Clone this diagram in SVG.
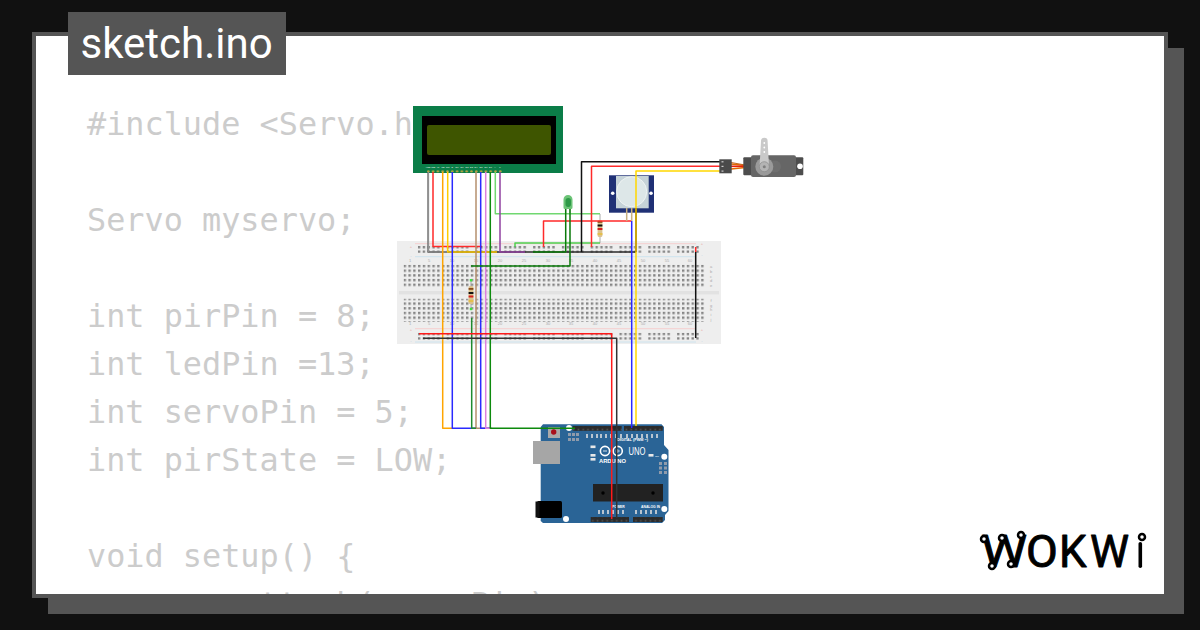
<svg xmlns="http://www.w3.org/2000/svg" width="1200" height="630" viewBox="0 0 1200 630">
<style>
.code{font-family:"DejaVu Sans Mono","Liberation Mono",monospace;font-size:31.85px;fill:#ccc}
.w{fill:none;stroke-width:1.5;stroke-linejoin:round}
.tiny{font-family:"Liberation Sans",Arial,sans-serif;font-size:3px;fill:#fff}
.bb{font-family:"Liberation Sans",Arial,sans-serif;font-size:4px;fill:#aaa;text-anchor:middle}
.lg{font-family:Roboto,"DejaVu Sans",sans-serif;font-size:44px;fill:#000;stroke:#000;stroke-width:.9px;stroke-linejoin:round}
</style>
<defs>
<pattern id="holes" patternUnits="userSpaceOnUse" x="403.6" y="264.8" width="4.8" height="4.7"><rect x="0" y="0" width="2.4" height="2.4" fill="#858585"/></pattern>
<pattern id="rail" patternUnits="userSpaceOnUse" x="417.9" y="246" width="28.8" height="4.5"><g fill="#858585"><rect x="0" width="2.4" height="2.4"/><rect x="4.8" width="2.4" height="2.4"/><rect x="9.6" width="2.4" height="2.4"/><rect x="14.4" width="2.4" height="2.4"/><rect x="19.2" width="2.4" height="2.4"/></g></pattern>
<pattern id="rail2" patternUnits="userSpaceOnUse" x="417.9" y="332.8" width="28.8" height="4.5"><g fill="#858585"><rect x="0" width="2.4" height="2.4"/><rect x="4.8" width="2.4" height="2.4"/><rect x="9.6" width="2.4" height="2.4"/><rect x="14.4" width="2.4" height="2.4"/><rect x="19.2" width="2.4" height="2.4"/></g></pattern>
<pattern id="hdr" patternUnits="userSpaceOnUse" x="0" y="0" width="4.8" height="4.8"><rect width="4.8" height="4.8" fill="#2b2b2b"/><rect x="1.6" y="1.6" width="1.6" height="1.6" fill="#555"/></pattern>
<pattern id="lcdpins" patternUnits="userSpaceOnUse" x="426.9" y="0" width="4.8" height="10"><circle cx="1.4" cy="1.5" r="1.3" fill="#b9a642"/></pattern>
</defs>
<rect width="1200" height="630" fill="#111"/>
<rect x="48" y="48" width="1136" height="566" fill="#555"/>
<rect x="32" y="32" width="1136" height="566" fill="#555"/>
<rect x="36" y="36" width="1128" height="558" fill="#fff"/>
<g class="code">
<text x="87" y="135">#include &lt;Servo.h&gt;</text>
<text x="87" y="231">Servo myservo;</text>
<text x="87" y="327">int pirPin = 8;</text>
<text x="87" y="375">int ledPin =13;</text>
<text x="87" y="423">int servoPin = 5;</text>
<text x="87" y="471">int pirState = LOW;</text>
<text x="87" y="567">void setup() {</text>
<text x="87" y="615">myservo.attach(servoPin);</text>
</g>
<rect x="36" y="594" width="1148" height="4" fill="#555"/>
<rect x="48" y="598" width="1136" height="16" fill="#555"/>
<rect x="32" y="598" width="16" height="32" fill="#111"/>
<rect x="48" y="614" width="1152" height="16" fill="#111"/>
<g id="title"><rect x="68" y="12" width="218" height="63" fill="#555"/>
<text x="80.500" y="58" font-family="Roboto,sans-serif" font-size="42" fill="#fff">sketch.ino</text></g>

<g id="breadboard">
<rect x="397" y="241" width="324" height="103" fill="#eee"/>
<rect x="399" y="291" width="320" height="3.4" fill="#e2e2e2"/>
<g stroke-width="0.8" fill="none"><path d="M415 243.700H696M415 328.700H696" stroke="#f6c6c6"/><path d="M415 256.700H696M415 342H696" stroke="#c4e0ee"/></g>
<rect x="403.6" y="264.8" width="302" height="23" fill="url(#holes)"/>
<rect x="403.6" y="298.8" width="302" height="23" fill="url(#holes)"/>
<rect x="417.9" y="246" width="281" height="7" fill="url(#rail)"/>
<rect x="417.9" y="332.8" width="281" height="7" fill="url(#rail2)"/>
<g class="bb">
<text x="411" y="248" style="fill:#e9a0a0">+</text><text x="411" y="257" style="fill:#a9cde0">-</text>
<text x="702" y="245" style="fill:#e9a0a0">+</text><text x="702" y="256" style="fill:#a9cde0">-</text>
<text x="411" y="331" style="fill:#e9a0a0">+</text><text x="411" y="342" style="fill:#a9cde0">-</text>
<text x="702" y="331" style="fill:#e9a0a0">+</text><text x="702" y="342" style="fill:#a9cde0">-</text>
<text x="410" y="262">1</text><text x="429" y="262">5</text><text x="452" y="262">10</text><text x="476" y="262">15</text><text x="500" y="262">20</text><text x="524" y="262">25</text><text x="548" y="262">30</text><text x="571" y="262">35</text><text x="595" y="262">40</text><text x="619" y="262">45</text><text x="643" y="262">50</text><text x="667" y="262">55</text><text x="690" y="262">60</text>
<text x="410" y="325">1</text><text x="429" y="325">5</text><text x="452" y="325">10</text><text x="476" y="325">15</text><text x="500" y="325">20</text><text x="524" y="325">25</text><text x="548" y="325">30</text><text x="571" y="325">35</text><text x="595" y="325">40</text><text x="619" y="325">45</text><text x="643" y="325">50</text><text x="667" y="325">55</text><text x="690" y="325">60</text>
<text x="711" y="268">a</text><text x="711" y="273">b</text><text x="711" y="277.500">c</text><text x="711" y="282">d</text><text x="711" y="287">e</text>
<text x="711" y="302">f</text><text x="711" y="306.500">g</text><text x="711" y="311">h</text><text x="711" y="316">i</text><text x="711" y="320.500">j</text>
</g>
</g>

<g id="lcd">
<rect x="413" y="106" width="150" height="67" fill="#0b7d48"/>
<rect x="422" y="116" width="134" height="48" fill="#000"/>
<rect x="427" y="125" width="124" height="30" rx="2" fill="#3e5500"/>
<rect x="426.900" y="169.500" width="76" height="3" fill="url(#lcdpins)"/>
<g class="tiny" style="font-size:2.2px" text-anchor="middle">
<text x="428" y="168">VSS</text><text x="433" y="168">VDD</text><text x="438" y="168">V0</text><text x="443" y="168">RS</text><text x="447.700" y="168">RW</text><text x="452.300" y="168">E</text><text x="457" y="168">D0</text><text x="462" y="168">D1</text><text x="467" y="168">D2</text><text x="471.500" y="168">D3</text><text x="476" y="168">D4</text><text x="481" y="168">D5</text><text x="486" y="168">D6</text><text x="490.500" y="168">D7</text><text x="495" y="168">A</text><text x="500" y="168">K</text>
</g>
</g>

<g id="pir">
<rect x="609" y="175.300" width="45" height="37.400" fill="#1f3075"/>
<rect x="616" y="176" width="32.700" height="32.300" fill="#c6d3d8"/>
<circle cx="631.700" cy="191.700" r="15" fill="#dde7e8" stroke="#eef3f3" stroke-width="1"/>
<circle cx="612.700" cy="193.300" r="1.800" fill="#fff"/><circle cx="651" cy="193.300" r="1.800" fill="#fff"/>
</g>

<g id="led">
<path d="M568 195a4.500 4.500 0 0 1 4.500 4.500v8a1.500 1.500 0 0 1 -1.500 1.500h-6a1.500 1.500 0 0 1 -1.500 -1.500v-8a4.500 4.500 0 0 1 4.500 -4.500z" fill="#6cc477"/>
<rect x="565.500" y="198" width="5.500" height="9" rx="2.700" fill="#2f9a48"/>
<path d="M565.700 209v5M570 209v5" stroke="#999" stroke-width="0.900"/>
</g>

<g id="servo">
<path d="M731 164L750 166M731 169L750 167" stroke="#e06a00" stroke-width="1.300" fill="none"/>
<path d="M731 166.300H751" stroke="#e6200a" stroke-width="1.600" fill="none"/>
<path d="M731 162.500L745 165" stroke="#c4651e" stroke-width="1.200" fill="none"/>
<rect x="743.300" y="157.300" width="60" height="18" rx="1" fill="#4d4d4d"/>
<rect x="751" y="155.300" width="45" height="21.700" rx="2" fill="#666"/>
<circle cx="800" cy="166.300" r="2.800" fill="#fff"/>
<circle cx="775" cy="166.500" r="6" fill="#6e6e6e"/>
<circle cx="764.300" cy="166.700" r="9" fill="#9a9a9a"/>
<path d="M761 141a3.300 3.300 0 0 1 6.600 0L769 166h-9.400z" fill="#c9c9c9"/>
<circle cx="764.300" cy="166.700" r="5" fill="#b4b4b4" stroke="#8a8a8a" stroke-width="0.700"/>
<circle cx="764.300" cy="166.700" r="1.500" fill="#808080"/>
<g fill="#fff"><circle cx="764.300" cy="143" r="0.900"/><circle cx="764.300" cy="147.500" r="0.900"/><circle cx="764.300" cy="152" r="0.900"/></g>
</g>

<g id="resistor1">
<path d="M600 214V243" stroke="#aaa" stroke-width="1"/>
<rect x="597.600" y="220" width="4.800" height="17" rx="1.500" fill="#dcc28d"/>
<rect x="597.600" y="221" width="4.800" height="1.800" fill="#8a4b1c"/><rect x="597.600" y="224.500" width="4.800" height="2" fill="#111"/><rect x="597.600" y="228" width="4.800" height="2" fill="#d42020"/><rect x="597.600" y="233" width="4.800" height="2" fill="#e3bf4d"/>
</g>
<g id="resistor2">
<path d="M471 280V309" stroke="#aaa" stroke-width="1"/>
<rect x="468.600" y="286" width="4.800" height="18" rx="1.500" fill="#dcc28d"/>
<rect x="468.600" y="288" width="4.800" height="1.800" fill="#8a4b1c"/><rect x="468.600" y="292" width="4.800" height="2" fill="#111"/><rect x="468.600" y="295.500" width="4.800" height="2" fill="#d42020"/><rect x="468.600" y="300" width="4.800" height="2" fill="#e3bf4d"/>
<rect x="469.800" y="279" width="2.400" height="2.400" fill="#3ee03e"/><rect x="469.800" y="307.800" width="2.400" height="2.400" fill="#3ee03e"/>
</g>

<g id="arduino">
<path d="M543 424.300H661.500L664 427V445L668.500 450V511L665 515V520L662 523H543L540.700 521V427Z" fill="#2a6496"/>
<rect x="533" y="441" width="27" height="23" fill="#a6a6a6"/>
<rect x="537" y="501" width="25" height="17" rx="1.500" fill="#000"/><rect x="535.500" y="501.500" width="4" height="16" fill="#111"/>
<rect x="548" y="427" width="12" height="11" fill="#a9a9a9"/><circle cx="553.700" cy="432" r="2.700" fill="#a80e1a"/>
<rect x="572.700" y="426" width="49" height="4.800" fill="url(#hdr)"/>
<rect x="624" y="426" width="38.700" height="4.800" fill="url(#hdr)"/>
<rect x="590.700" y="517" width="38.300" height="5" fill="url(#hdr)"/>
<rect x="633" y="517" width="29.700" height="5" fill="url(#hdr)"/>
<g fill="#8f9bab"><rect x="568" y="433" width="3" height="3"/><rect x="572" y="433" width="3" height="3"/><rect x="576" y="433" width="3" height="3"/><rect x="568" y="438" width="3" height="3"/><rect x="572" y="438" width="3" height="3"/><rect x="576" y="438" width="3" height="3"/>
<rect x="659" y="462" width="3" height="3"/><rect x="664" y="462" width="3" height="3"/><rect x="659" y="466.500" width="3" height="3"/><rect x="664" y="466.500" width="3" height="3"/><rect x="659" y="471" width="3" height="3"/><rect x="664" y="471" width="3" height="3"/></g>
<rect x="593" y="484" width="70" height="17.500" fill="#222"/>
<circle cx="603" cy="493" r="1.700" fill="#000"/><circle cx="653" cy="493" r="1.700" fill="#000"/>
<g fill="#fff"><circle cx="569" cy="428" r="3"/><circle cx="566" cy="519" r="3"/><circle cx="664.300" cy="456.700" r="3"/><circle cx="664.300" cy="509" r="3"/></g>
<g fill="#e8e8e8"><rect x="590.500" y="445.500" width="5" height="2.600"/><rect x="590.500" y="454" width="5" height="2.600"/><rect x="590.500" y="458" width="5" height="2.600"/><rect x="648.500" y="454" width="5" height="2.600"/></g>
<circle cx="605" cy="451" r="4.600" fill="none" stroke="#fff" stroke-width="1.600"/><circle cx="617.700" cy="451" r="4.600" fill="none" stroke="#fff" stroke-width="1.600"/>
<path d="M603 451h4M615.700 451h4M617.700 449v4" stroke="#fff" stroke-width="0.800"/>
<text x="599" y="463" font-family="Liberation Sans,sans-serif" font-size="5" font-weight="bold" fill="#fff" textLength="27" lengthAdjust="spacingAndGlyphs">ARDUINO</text>
<text x="628.500" y="455" font-family="Liberation Sans,sans-serif" font-size="10" fill="#fff" textLength="17" lengthAdjust="spacingAndGlyphs">UNO</text>
<text x="617" y="441" font-family="Liberation Sans,sans-serif" font-size="3.400" font-weight="bold" fill="#fff" textLength="31" lengthAdjust="spacingAndGlyphs">DIGITAL (PWM ~)</text>
<text x="612" y="508" font-family="Liberation Sans,sans-serif" font-size="3.400" font-weight="bold" fill="#fff">POWER</text>
<text x="641" y="508" font-family="Liberation Sans,sans-serif" font-size="3.400" font-weight="bold" fill="#fff">ANALOG IN</text>
<text x="655" y="457" font-family="Liberation Sans,sans-serif" font-size="2.500" fill="#fff">ON</text>
<g fill="#b8c4cf"><rect x="586" y="434" width="2" height="4"/><rect x="591" y="434" width="2" height="4"/><rect x="596" y="434" width="2" height="4"/><rect x="600" y="434" width="2" height="4"/><rect x="605" y="434" width="2" height="4"/><rect x="610" y="434" width="2" height="4"/><rect x="615" y="434" width="2" height="4"/><rect x="620" y="434" width="2" height="4"/><rect x="626" y="434" width="2" height="4"/><rect x="631" y="434" width="2" height="4"/><rect x="636" y="434" width="2" height="4"/><rect x="641" y="434" width="2" height="4"/><rect x="646" y="434" width="2" height="4"/><rect x="651" y="434" width="2" height="4"/><rect x="656" y="434" width="2" height="4"/>
<rect x="598" y="510" width="2" height="4"/><rect x="602" y="510" width="2" height="4"/><rect x="607" y="510" width="2" height="4"/><rect x="612" y="510" width="2" height="4"/><rect x="617" y="510" width="2" height="4"/><rect x="622" y="510" width="2" height="4"/><rect x="635" y="510" width="2" height="4"/><rect x="640" y="510" width="2" height="4"/><rect x="645" y="510" width="2" height="4"/><rect x="650" y="510" width="2" height="4"/><rect x="655" y="510" width="2" height="4"/></g>
</g>

<g id="connectors" class="w">
<path d="M428.300 172V252H636" stroke="#2b2b2b"/>
<path d="M428.300 172V252H448" stroke="#909090"/>
<path d="M433 172V246.600H482" stroke="#ff2a2a"/>
<path d="M442.700 172V428.300H452" stroke="#ffa500"/>
<path d="M447.700 172V252H497" stroke="#ffcc00"/>
<path d="M452.300 172V428.300H477" stroke="#2a2aff"/>
<path d="M476 172V428.300H490" stroke="#b5906f"/>
<path d="M480.700 172V428.300H490" stroke="#2a2aff"/>
<path d="M485.700 172V428.300H492" stroke="#dd80dd"/>
<path d="M490.300 172V428.300H575" stroke="#0d8a0d"/>
<path d="M495.300 172V213.700H600" stroke="#70d870"/>
<path d="M500 172V252H525" stroke="#9040a0"/>
<path d="M515 247V243H600" stroke="#4fd04f"/>
<path d="M543.500 247V221H632" stroke="#ff2a2a"/>
<path d="M565.700 209V252H533" stroke="#0a7a0a"/>
<path d="M570 209V266H471" stroke="#0a7a0a"/>
<path d="M471.700 318V428.300H476" stroke="#1f8a2f"/>
<path d="M581.500 252V161.700H724" stroke="#111"/>
<path d="M591.500 247V166.300H724" stroke="#ff2a2a"/>
<path d="M636 426V171H724" stroke="#ffd800"/>
<path d="M636 208V252" stroke="#b89000"/>
<path d="M626.700 208V221M631.700 208V221" stroke="#c8b080"/>
<path d="M631.700 221V428" stroke="#2a2aff"/>
<path d="M695.700 247V252" stroke="#ff2a2a"/>
<path d="M695.700 252V338" stroke="#111"/>
<path d="M419 333.700H611.700V519" stroke="#ff1a1a"/>
<path d="M423 338.300H616.700V518" stroke="#333"/>
</g>

<g id="servo-connector">
<rect x="719.300" y="159.300" width="12.400" height="14" fill="#4a4a4a"/>
<g fill="#ccc"><rect x="721.500" y="161.200" width="2" height="1.200"/><rect x="721.500" y="165.800" width="2" height="1.200"/><rect x="721.500" y="170.500" width="2" height="1.200"/></g>
</g>

<g id="logo">
<text class="lg" transform="translate(981 567) scale(1.180 1)">W</text>
<text class="lg" transform="translate(1026 567) scale(1.050 1)">O</text>
<text class="lg" transform="translate(1059 567) scale(1 1)">K</text>
<text class="lg" transform="translate(1090 567) scale(1 1)">W</text>
<rect x="1138.500" y="542" width="3.600" height="26" rx="1.800" fill="#000"/>
<g fill="#fff" stroke="#000" stroke-width="2.500"><circle cx="984" cy="539" r="3"/><circle cx="1002" cy="538" r="3"/><circle cx="1021" cy="535" r="3"/><circle cx="992" cy="566" r="3"/><circle cx="1011" cy="564" r="3"/><circle cx="1142" cy="537" r="3"/></g>
</g>
</svg>
